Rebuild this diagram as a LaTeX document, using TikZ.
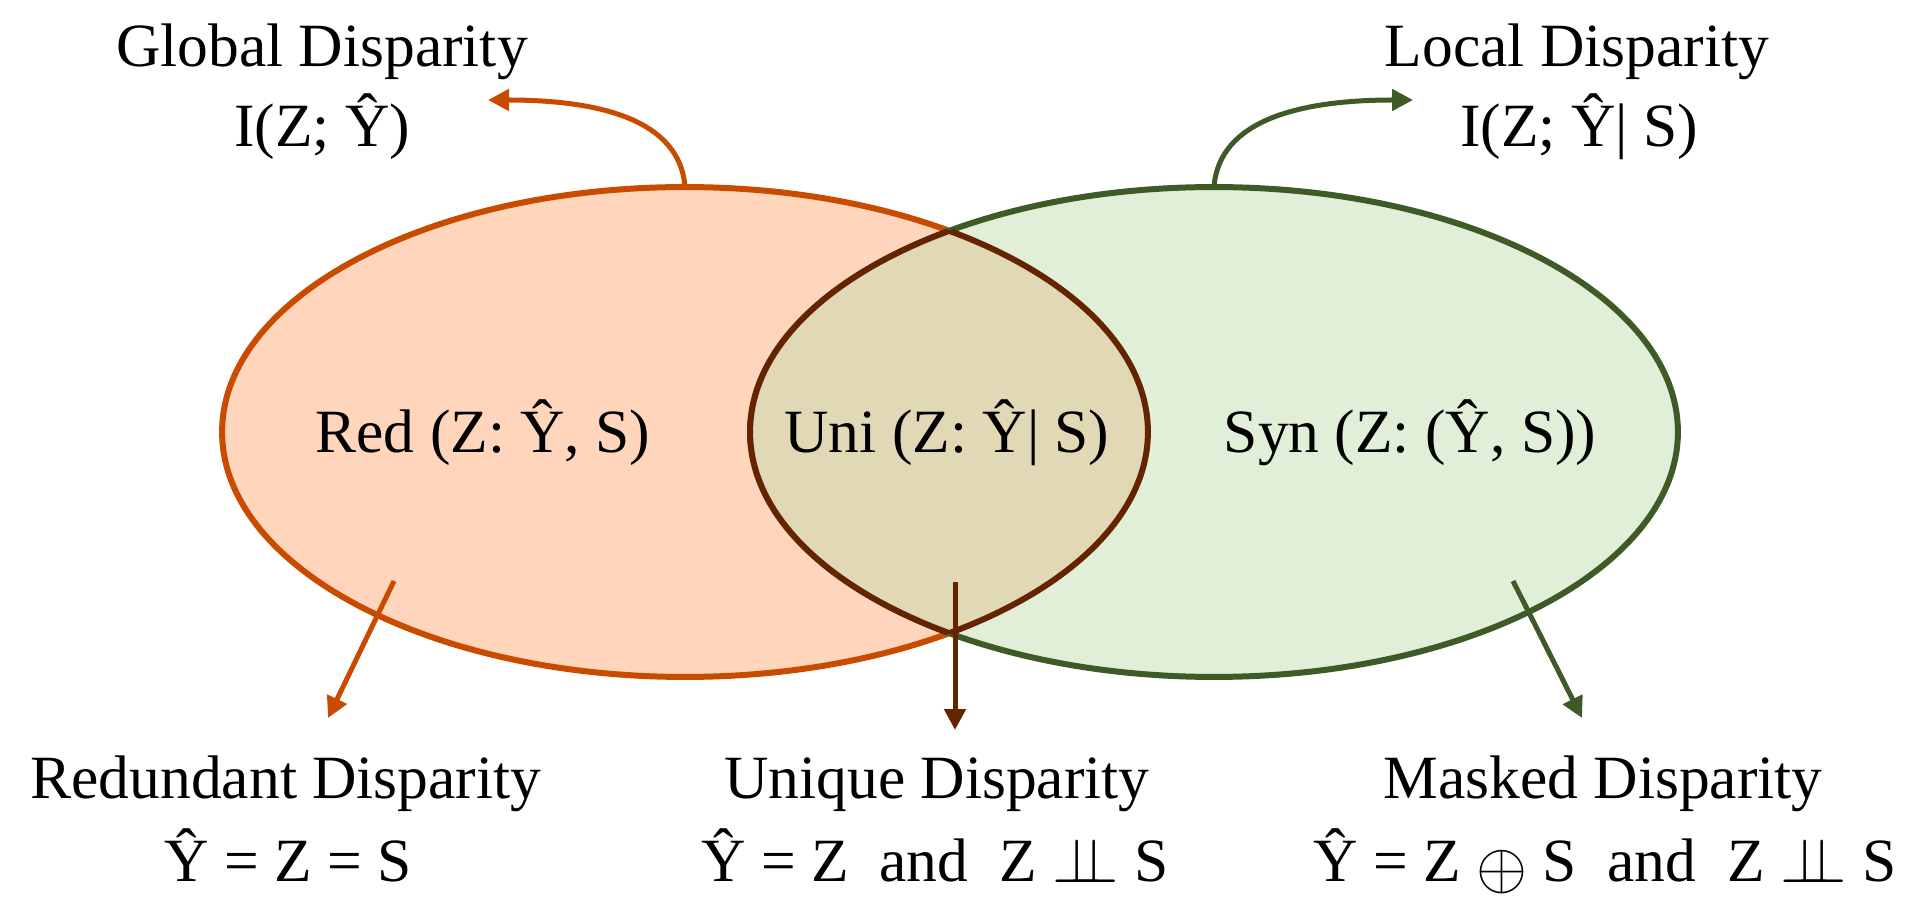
\documentclass[tikz,border=0pt]{standalone}
\usepackage{fontspec}
\setmainfont{Liberation Serif}
\usetikzlibrary{arrows.meta}
\definecolor{redline}{HTML}{C84B00}
\definecolor{redfill}{HTML}{FFD5BC}
\definecolor{grnline}{HTML}{3D5A27}
\definecolor{grnfill}{HTML}{E1EFD9}
\definecolor{lensfill}{HTML}{E1D8B6}
\definecolor{lensline}{HTML}{652400}
\newcommand{\indep}{\raisebox{-0.02em}{\scalebox{1.45}{$\perp\!\!\!\perp$}}}
\newcommand{\xorop}{\raisebox{-0.12em}{\scalebox{1.5}{$\oplus$}}}
\begin{document}
\begin{tikzpicture}[x=0.02cm,y=-0.02cm,
  lbl/.style={inner sep=0pt,anchor=base,font=\fontsize{35}{42}\selectfont},
  arr/.style={line width=0.1cm,-{Triangle[length=0.42cm,width=0.42cm]}}]
\useasboundingbox (0,0) rectangle (1910,911);
% ellipses
\path[fill=redfill,draw=redline,line width=0.12cm] (685,432) ellipse [x radius=9.26cm,y radius=4.9cm];
\path[fill=grnfill,draw=grnline,line width=0.12cm] (1214,432) ellipse [x radius=9.28cm,y radius=4.9cm];
\begin{scope}
  \clip (685,432) ellipse [x radius=9.26cm,y radius=4.9cm];
  \fill[lensfill] (1214,432) ellipse [x radius=9.28cm,y radius=4.9cm];
  \draw[lensline,line width=0.12cm] (1214,432) ellipse [x radius=9.28cm,y radius=4.9cm];
\end{scope}
\begin{scope}
  \clip (1214,432) ellipse [x radius=9.28cm,y radius=4.9cm];
  \draw[lensline,line width=0.12cm] (685,432) ellipse [x radius=9.26cm,y radius=4.9cm];
\end{scope}
% region labels
\node[lbl] (red) at (483,453) {Red (Z: Ŷ, S)};
\node[lbl] (uni) at (947,453) {Uni (Z: Ŷ| S)};
\node[lbl] (syn) at (1410,453) {Syn (Z: (Ŷ, S))};
% top labels
\node[lbl] (glob1) at (322,67) {Global Disparity};
\node[lbl] (glob2) at (322,147) {I(Z; Ŷ)};
\node[lbl] (loc1) at (1577,67) {Local Disparity};
\node[lbl] (loc2) at (1579,147) {I(Z; Ŷ| S)};
% bottom labels
\node[lbl] (redd1) at (286,798) {Redundant Disparity};
\node[lbl] (redd2) at (288,881) {Ŷ = Z = S};
\node[lbl] (uniq1) at (937,798) {Unique Disparity};
\node[lbl] (uniq2) at (935,881) {Ŷ = Z\ \ and\ \ Z \indep{} S};
\node[lbl] (mask1) at (1603,798) {Masked Disparity};
\node[lbl] (mask2) at (1605,881) {Ŷ = Z \xorop{} S\ \ and\ \ Z \indep{} S};
% arrow coordinates
\coordinate (gs) at (685,187);
\coordinate (gt) at (488,100);
\coordinate (ls) at (1214,187);
\coordinate (lt) at (1413,100);
\coordinate (rs) at (394,581);
\coordinate (rt) at (328,718);
\coordinate (us) at (955,582);
\coordinate (ut) at (955,730);
\coordinate (ms) at (1513,581);
\coordinate (mt) at (1582,718);
\draw[arr,redline] (gs) .. controls (680,120) and (600,100) .. (gt);
\draw[arr,grnline] (ls) .. controls (1219,120) and (1300,100) .. (lt);
\draw[arr,redline] (rs) -- (rt);
\draw[arr,lensline] (us) -- (ut);
\draw[arr,grnline] (ms) -- (mt);
\end{tikzpicture}
\end{document}
